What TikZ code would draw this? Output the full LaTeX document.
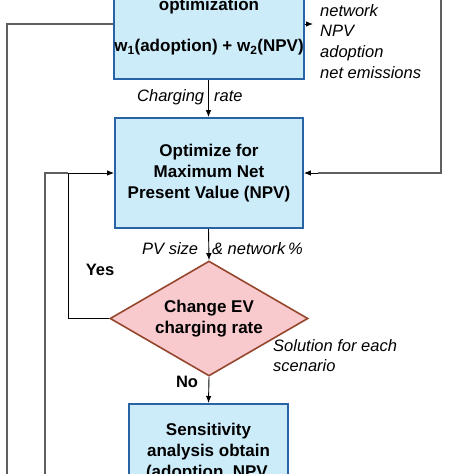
\documentclass[tikz,border=0pt]{standalone}
\usepackage{fontspec}
\setmainfont{Liberation Sans}
\usetikzlibrary{arrows.meta,shapes.geometric}
\definecolor{boxfill}{RGB}{205,236,250}
\definecolor{boxline}{RGB}{40,100,165}
\definecolor{dfill}{RGB}{248,202,206}
\definecolor{dline}{RGB}{150,70,45}
\definecolor{loopgray}{RGB}{95,95,95}
\tikzset{
  procbox/.style={draw=boxline, line width=1.8pt, fill=boxfill, align=center,
    font=\fontsize{17}{21}\selectfont\bfseries, inner sep=0pt},
  decision/.style={diamond, draw=dline, line width=1.6pt, fill=dfill, align=center,
    font=\fontsize{17}{21}\selectfont\bfseries, inner sep=0pt, aspect=1.72,
    minimum width=198pt, minimum height=115pt},
  lbl/.style={font=\fontsize{16.5}{20.7}\selectfont\itshape, inner sep=0pt, align=left},
  blbl/.style={font=\fontsize{16.5}{21}\selectfont\bfseries, inner sep=0pt},
  flow/.style={draw=black, line width=0.9pt, -{Latex[length=7pt,width=5.5pt]}},
  thinline/.style={draw=black, line width=0.9pt},
  grayline/.style={draw=loopgray, line width=1.8pt},
  graythin/.style={draw=loopgray, line width=1.2pt},
}
\begin{document}
\begin{tikzpicture}[x=1pt,y=-1pt]
\useasboundingbox (0,0) rectangle (474,474);
\clip (0,0) rectangle (474,474);
\fill[white] (0,0) rectangle (474,474);

% boxes
\node[procbox, minimum width=188pt, minimum height=104pt] (top) at (209,27)
  {optimization\\[20pt]w\textsubscript{1}(adoption) + w\textsubscript{2}(NPV)};
\node[procbox, minimum width=188pt, minimum height=110pt] (npv) at (209,173)
  {Optimize for\\Maximum Net\\Present Value (NPV)};
\node[decision] (dec) at (209,318.5) {Change EV\\charging rate};
\node[procbox, minimum width=159pt, minimum height=120pt, anchor=north,
  text depth=0pt] (sens) at (208.5,403)
  {\\[-14pt]Sensitivity\\analysis obtain\\(adoption, NPV,\\ };

% coordinates for loops
\coordinate (tl) at (7,24);
\coordinate (tlb) at (7,480);
\coordinate (outA) at (313,24);
\coordinate (rtop) at (441,-5);
\coordinate (rbend) at (441,173);
\coordinate (rtip) at (318,173);
\coordinate (gbot) at (45,480);
\coordinate (gbend) at (45,173);
\coordinate (ybend) at (68,318.5);
\coordinate (yjoin) at (68,173);

% connectors
\draw[flow] (top.south -| 208.5,0) -- (npv.north -| 208.5,0);
\draw[flow] (npv.south -| 208.5,0) -- (dec.north);
\draw[flow] (dec.south) -- (sens.north);
\draw[flow] (top.east |- outA) -- (outA);
\draw[grayline] (top.west |- tl) -- (tl) -- (tlb);
\draw[grayline] (rtop) -- (rbend) -- (rtip);
\draw[flow] (rtip) -- (npv.east);
\draw[graythin] (gbot) -- (gbend) -- (yjoin);
\draw[thinline] (dec.west) -- (ybend) -- (yjoin);
\draw[flow] (yjoin) -- (npv.west);

% labels
\node[lbl, anchor=north west] (outs) at (320,4)
  {network\\NPV\\adoption\\net emissions};
\node[lbl, anchor=west] (crate) at (137,97) {Charging\hspace{10pt}rate};
\node[lbl, anchor=west] (pvs) at (142,249) {PV size\hspace{14pt}\& network\,\%};
\node[lbl, anchor=north west] (sol) at (273,339) {Solution for each\\scenario};
\node[blbl] (yes) at (100,270) {Yes};
\node[blbl] (no) at (187,382) {No};
\end{tikzpicture}
\end{document}
